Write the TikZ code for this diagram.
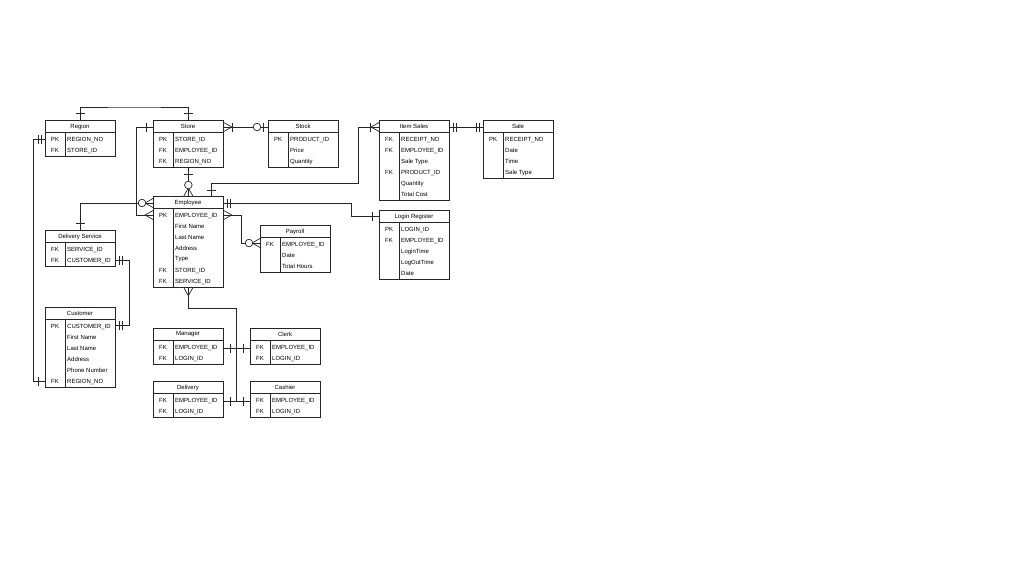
\documentclass[tikz,border=0pt]{standalone}
\usepackage{fontspec}
\setmainfont{Liberation Sans}
\usetikzlibrary{calc}
\tikzset{x=1pt,y=-1pt,
  tx/.style={font=\fontsize{6}{7}\selectfont,inner sep=0pt},
  ln/.style={draw=black!85,line width=0.7pt}}
\newcommand\tbl[6]{%
 \node[ln,minimum width=70pt,minimum height={14+11*#5},anchor=north west,inner sep=0pt] (#1) at (#2,#3) {};
 \node[tx] at ({#2+35},{#3+6.5}) {#4};
 \draw[ln] ({#2},{#3+12}) -- ({#2+70},{#3+12});
 \draw[ln] ({#2+20},{#3+12}) -- ({#2+20},{#3+14+11*#5});
 \foreach \k/\v [count=\i] in {#6} {
   \node[tx] at ({#2+10},{#3+13+11*\i-4.5}) {\k};
   \node[tx,anchor=west] at ({#2+22},{#3+13+11*\i-4.5}) {\v};}}
% point, dx, dy
\newcommand\mcrow[3]{\draw[ln] ($#1+({-(#3)*4.5},{(#2)*4.5})$) -- ($#1+({(#2)*8},{(#3)*8})$) -- ($#1+({(#3)*4.5},{-(#2)*4.5})$);}
\newcommand\mbar[4]{\draw[ln] ($#1+({(#2)*(#4)-(#3)*4.5},{(#3)*(#4)+(#2)*4.5})$) -- ($#1+({(#2)*(#4)+(#3)*4.5},{(#3)*(#4)-(#2)*4.5})$);}
\newcommand\mcirc[4]{\draw[ln,fill=white] ($#1+({(#2)*(#4)},{(#3)*(#4)})$) circle (3.8);}
\begin{document}
\begin{tikzpicture}
\fill[white] (0,0) rectangle (1024,576);
\useasboundingbox (0,0) rectangle (1024,576);
\tbl{region}{45}{120}{Region}{2}{PK/REGION\_NO,FK/STORE\_ID}
\tbl{store}{153}{120}{Store}{3}{PK/STORE\_ID,FK/EMPLOYEE\_ID,FK/REGION\_NO}
\tbl{stock}{268}{120}{Stock}{3}{PK/PRODUCT\_ID,{}/Price,{}/Quantity}
\tbl{items}{379}{120}{Item Sales}{6}{FK/RECEIPT\_NO,FK/EMPLOYEE\_ID,{}/Sale Type,FK/PRODUCT\_ID,{}/Quantity,{}/Total Cost}
\tbl{sale}{483}{120}{Sale}{4}{PK/RECEIPT\_NO,{}/Date,{}/Time,{}/Sale Type}
\tbl{emp}{153}{196}{Employee}{7}{PK/EMPLOYEE\_ID,{}/First Name,{}/Last Name,{}/Address,{}/Type,FK/STORE\_ID,FK/SERVICE\_ID}
\tbl{payroll}{260}{225}{Payroll}{3}{FK/EMPLOYEE\_ID,{}/Date,{}/Total Hours}
\tbl{login}{379}{210}{Login Register}{5}{PK/LOGIN\_ID,FK/EMPLOYEE\_ID,{}/LoginTime,{}/LogOutTime,{}/Date}
\tbl{dserv}{45}{230}{Delivery Service}{2}{FK/SERVICE\_ID,FK/CUSTOMER\_ID}
\tbl{cust}{45}{307}{Customer}{6}{PK/CUSTOMER\_ID,{}/First Name,{}/Last Name,{}/Address,{}/Phone Number,FK/REGION\_NO}
\tbl{manager}{153}{328}{Manager}{2}{FK/EMPLOYEE\_ID,FK/LOGIN\_ID}
\tbl{clerk}{250}{328}{Clerk}{2}{FK/EMPLOYEE\_ID,FK/LOGIN\_ID}
\tbl{delivery}{153}{381}{Delivery}{2}{FK/EMPLOYEE\_ID,FK/LOGIN\_ID}
\tbl{cashier}{250}{381}{Cashier}{2}{FK/EMPLOYEE\_ID,FK/LOGIN\_ID}
% Region - Store
\draw[ln] ($(region.north west)+(35,0)$) |- (134,107) -| ($(store.north west)+(35,0)$);
\mbar{($(region.north west)+(35,0)$)}{0}{-1}{7}
\mbar{($(store.north west)+(35,0)$)}{0}{-1}{7}
% Store - Stock
\draw[ln] ($(store.north east)+(0,7)$) -- ($(stock.north west)+(0,7)$);
\mcrow{($(store.north east)+(0,7)$)}{1}{0}
\mbar{($(store.north east)+(0,7)$)}{1}{0}{9}
\mcirc{($(stock.north west)+(0,7)$)}{-1}{0}{11}
\mbar{($(stock.north west)+(0,7)$)}{-1}{0}{5}
% Store - Employee
\draw[ln] (store.south) -- (emp.north);
\mbar{(store.south)}{0}{1}{7}
\mcrow{(emp.north)}{0}{-1}
\mcirc{(emp.north)}{0}{-1}{11}
% Store - Employee (left loop)
\draw[ln] ($(store.north west)+(0,7)$) -| (136,215) -- ($(emp.north west)+(0,19)$);
\mbar{($(store.north west)+(0,7)$)}{-1}{0}{7}
\mcrow{($(emp.north west)+(0,19)$)}{-1}{0}
% Employee - Delivery Service
\draw[ln] ($(emp.north west)+(0,7)$) -| (dserv.north);
\mcrow{($(emp.north west)+(0,7)$)}{-1}{0}
\mcirc{($(emp.north west)+(0,7)$)}{-1}{0}{11}
\mbar{(dserv.north)}{0}{-1}{7}
% Employee - Item Sales
\draw[ln] ($(emp.north west)+(58,0)$) |- (358,183) |- ($(items.north west)+(0,7)$);
\mbar{($(emp.north west)+(58,0)$)}{0}{-1}{6}
\mcrow{($(items.north west)+(0,7)$)}{-1}{0}
\mbar{($(items.north west)+(0,7)$)}{-1}{0}{9}
% Employee - Login Register
\draw[ln] ($(emp.north east)+(0,7)$) -| (351,216) -- ($(login.north west)+(0,6)$);
\mbar{($(emp.north east)+(0,7)$)}{1}{0}{4}
\mbar{($(emp.north east)+(0,7)$)}{1}{0}{7}
\mbar{($(login.north west)+(0,6)$)}{-1}{0}{7}
% Employee - Payroll
\draw[ln] ($(emp.north east)+(0,19)$) -| (241,243) -- ($(payroll.north west)+(0,18)$);
\mcrow{($(emp.north east)+(0,19)$)}{1}{0}
\mcrow{($(payroll.north west)+(0,18)$)}{-1}{0}
\mcirc{($(payroll.north west)+(0,18)$)}{-1}{0}{11}
% Item Sales - Sale
\draw[ln] ($(items.north east)+(0,7)$) -- ($(sale.north west)+(0,7)$);
\mbar{($(items.north east)+(0,7)$)}{1}{0}{4}
\mbar{($(items.north east)+(0,7)$)}{1}{0}{7}
\mbar{($(sale.north west)+(0,7)$)}{-1}{0}{4}
\mbar{($(sale.north west)+(0,7)$)}{-1}{0}{7}
% Region - Customer
\draw[ln] ($(region.north west)+(0,19)$) -| (33,381) -- ($(cust.north west)+(0,74)$);
\mbar{($(region.north west)+(0,19)$)}{-1}{0}{4}
\mbar{($(region.north west)+(0,19)$)}{-1}{0}{7}
\mbar{($(cust.north west)+(0,74)$)}{-1}{0}{7}
% Delivery Service - Customer
\draw[ln] ($(dserv.north east)+(0,30)$) -| (129,325) -- ($(cust.north east)+(0,18)$);
\mbar{($(dserv.north east)+(0,30)$)}{1}{0}{4}
\mbar{($(dserv.north east)+(0,30)$)}{1}{0}{7}
\mbar{($(cust.north east)+(0,18)$)}{1}{0}{4}
\mbar{($(cust.north east)+(0,18)$)}{1}{0}{7}
% Employee - subtypes
\draw[ln] (emp.south) |- (236,308) -- (236,401);
\mcrow{(emp.south)}{0}{1}
\draw[ln] ($(manager.north east)+(0,20)$) -- ($(clerk.north west)+(0,20)$);
\draw[ln] ($(delivery.north east)+(0,20)$) -- ($(cashier.north west)+(0,20)$);
\mbar{($(manager.north east)+(0,20)$)}{1}{0}{7}
\mbar{($(clerk.north west)+(0,20)$)}{-1}{0}{7}
\mbar{($(delivery.north east)+(0,20)$)}{1}{0}{7}
\mbar{($(cashier.north west)+(0,20)$)}{-1}{0}{7}
\end{tikzpicture}
\end{document}
